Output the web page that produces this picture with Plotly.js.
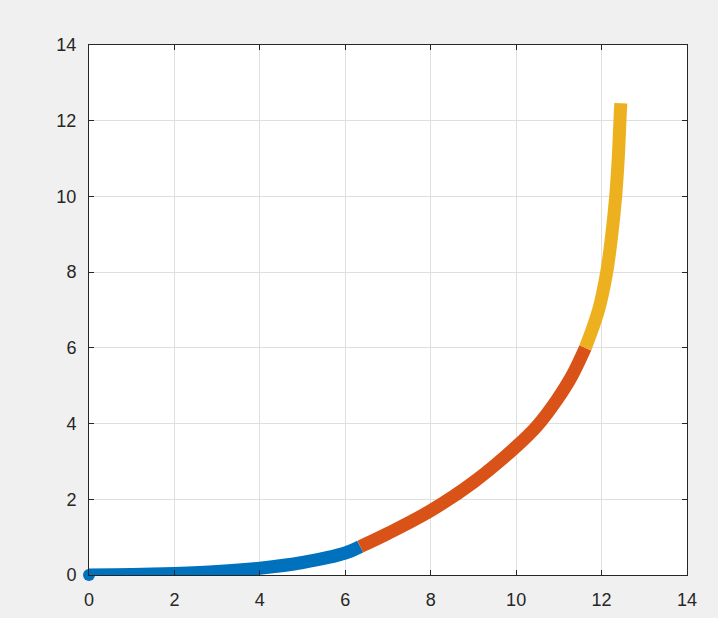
<!DOCTYPE html>
<html>
<head>
<meta charset="utf-8">
<script src="https://cdn.plot.ly/plotly-3.0.1.min.js"></script>
<style>html,body{margin:0;padding:0;background:#f0f0f0;}#chart{width:718px;height:618px;}</style>
</head>
<body>
<div id="chart"></div>
<script>
const blueX = [0, 1, 2, 3, 4, 5, 6, 6.35];
const blueY = [0, 0.01, 0.04, 0.09, 0.18, 0.33, 0.58, 0.75];
const orangeX = [6.35, 7, 8, 9, 10, 10.5, 10.95, 11.3, 11.62];
const orangeY = [0.75, 1.10, 1.70, 2.45, 3.39, 3.95, 4.62, 5.25, 6.0];
const yellowX = [11.62, 11.93, 12.12, 12.24, 12.33, 12.39, 12.43, 12.45];
const yellowY = [6.0, 7, 8, 9, 10, 11, 12, 12.46];
const tickVals = [0, 2, 4, 6, 8, 10, 12, 14];

function seg(x, y, color) {
  return {x: x, y: y, type: 'scatter', mode: 'lines', line: {color: color, width: 13, shape: 'spline', smoothing: 1}, hoverinfo: 'skip'};
}
const data = [
  seg(blueX, blueY, '#0072BD'),
  seg(orangeX, orangeY, '#D95319'),
  seg(yellowX, yellowY, '#EDB120'),
  {x: [blueX[0]], y: [blueY[0]], type: 'scatter', mode: 'markers', marker: {color: '#0072BD', size: 12}, hoverinfo: 'skip', cliponaxis: false},
  {x: [0], y: [0], xaxis: 'x2', yaxis: 'y2', type: 'scatter', mode: 'markers', marker: {opacity: 0}, hoverinfo: 'skip'}
];
const font = {family: 'Liberation Sans, Arial, sans-serif', size: 18, color: '#262626'};
const frameAxis = {
  range: [0, 14], tickvals: tickVals,
  showgrid: true, gridcolor: '#dfdfdf', gridwidth: 1, zeroline: false,
  showline: true, linecolor: '#262626', linewidth: 1, mirror: 'ticks',
  ticks: 'inside', ticklen: 5, tickcolor: '#262626', showticklabels: false
};
const labelAxis = {
  range: [0, 14], tickvals: tickVals, ticktext: tickVals.map(String),
  showgrid: false, zeroline: false, showline: false,
  ticks: 'outside', tickcolor: 'rgba(0,0,0,0)', tickfont: font
};
const layout = {
  width: 718, height: 618,
  paper_bgcolor: '#f0f0f0', plot_bgcolor: '#ffffff',
  margin: {l: 89, r: 31, t: 45, b: 43},
  showlegend: false,
  xaxis: Object.assign({}, frameAxis),
  yaxis: Object.assign({}, frameAxis),
  xaxis2: Object.assign({}, labelAxis, {overlaying: 'x', anchor: 'y', side: 'bottom', ticklen: 8}),
  yaxis2: Object.assign({}, labelAxis, {overlaying: 'y', anchor: 'x', side: 'left', ticklen: 8})
};
Plotly.newPlot('chart', data, layout, {displayModeBar: false, staticPlot: true});
</script>
</body>
</html>
